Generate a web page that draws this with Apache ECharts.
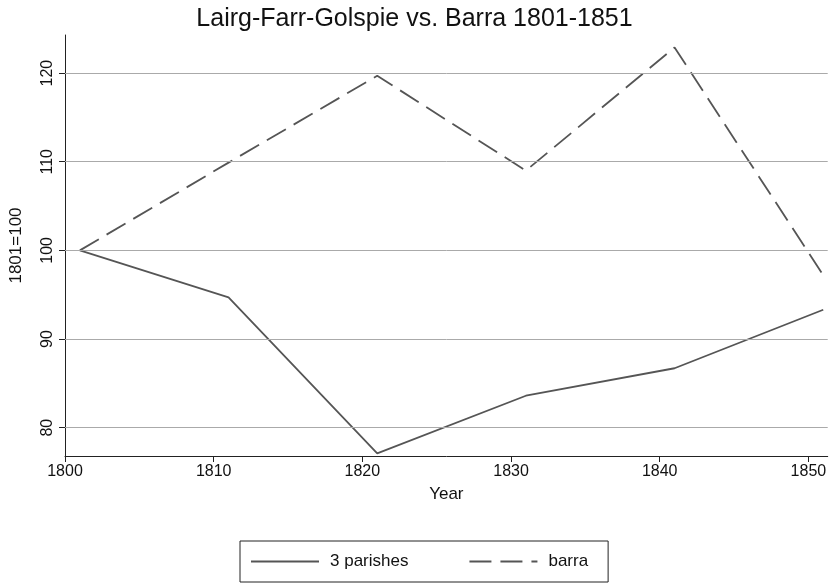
<!DOCTYPE html>
<html><head><meta charset="utf-8">
<script src="https://cdn.jsdelivr.net/npm/echarts@6/dist/echarts.min.js"></script>
<style>html,body{margin:0;padding:0;background:#fff}#c{width:829px;height:584px}</style>
</head><body><div id="c"></div>
<script>
// 数据
const years = [1801, 1811, 1821, 1831, 1841, 1851];
const parishes = [100, 94.7, 77.1, 83.6, 86.7, 93.3];
const barra = [100, 109.9, 119.7, 109.0, 122.9, 97.2];
const yTicks = [80, 90, 100, 110, 120];
const xTicks = [1800, 1810, 1820, 1830, 1840, 1850];

const font = 'Liberation Sans, Arial, sans-serif';
const chart = echarts.init(document.getElementById('c'));
const pair = arr => years.map((y, i) => [y, arr[i]]);

chart.setOption({
  animation: false,
  title: {text: 'Lairg-Farr-Golspie vs. Barra 1801-1851', left: 'center', top: 2,
    textStyle: {fontFamily: font, fontWeight: 'normal', fontSize: 25, color: '#111'}},
  grid: {left: 58, right: 1, top: 35, bottom: 128},
  legend: {
    bottom: 2, left: 240, width: 350, itemWidth: 68, itemHeight: 10, itemGap: 60,
    padding: [12, 20, 12, 10], borderColor: '#222', borderWidth: 1,
    itemStyle: {opacity: 0},
    textStyle: {fontFamily: font, fontSize: 17, color: '#111', padding: [0, 0, 0, 6]},
    data: ['3 parishes', 'barra']
  },
  xAxis: {
    type: 'value', min: 1800, max: 1851.3,
    name: 'Year', nameLocation: 'middle', nameGap: 30,
    nameTextStyle: {fontFamily: font, fontSize: 17, color: '#111'},
    axisLine: {lineStyle: {color: '#222'}},
    axisTick: {customValues: xTicks, length: 6, lineStyle: {color: '#222'}},
    axisLabel: {customValues: xTicks, formatter: v => String(v), fontFamily: font, fontSize: 16, color: '#111', margin: 8},
    splitLine: {show: false}
  },
  yAxis: {
    type: 'value', min: 76.8, max: 124.3,
    name: '1801=100', nameLocation: 'middle', nameGap: 40,
    nameTextStyle: {fontFamily: font, fontSize: 17, color: '#111'},
    axisLine: {show: true, lineStyle: {color: '#222'}},
    axisTick: {show: true, customValues: yTicks, length: 6, lineStyle: {color: '#222'}},
    axisLabel: {customValues: yTicks, rotate: 90, fontFamily: font, fontSize: 16, color: '#111', margin: 9},
    splitLine: {show: false}
  },
  series: [
    {name: '3 parishes', type: 'line', data: pair(parishes), symbol: 'none',
      lineStyle: {color: '#555', width: 1.8}, itemStyle: {color: '#555'},
      markLine: {silent: true, symbol: 'none', label: {show: false},
        lineStyle: {color: '#aaa', type: 'solid', width: 1},
        data: yTicks.map(v => ({yAxis: v}))}},
    {name: 'barra', type: 'line', data: pair(barra), symbol: 'none',
      lineStyle: {color: '#555', width: 1.8, type: [22, 9]}, itemStyle: {color: '#555'}}
  ]
});
</script></body></html>
